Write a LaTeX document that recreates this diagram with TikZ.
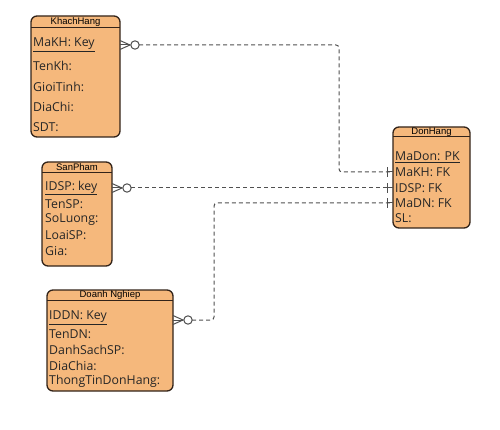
\documentclass[tikz,border=0pt]{standalone}
\usepackage{fontspec}
\setmainfont{Open Sans}
\newfontfamily\titlefont{Liberation Sans}
\definecolor{entfill}{RGB}{245,184,124}
\definecolor{entdraw}{RGB}{50,35,25}
\definecolor{conncol}{RGB}{80,80,80}
\begin{document}
\begin{tikzpicture}[x=1pt,y=-1pt,
  entbox/.style={draw=entdraw,fill=entfill,line width=1.3pt,rounded corners=6pt},
  ttl/.style={font=\titlefont\fontsize{9.5}{10}\selectfont,inner sep=0pt,anchor=center},
  attr/.style={font=\fontsize{12.3}{13}\selectfont,inner sep=0pt,anchor=west,text=black!85},
  conn/.style={draw=conncol,line width=1pt,dash pattern=on 4pt off 3pt,rounded corners=3pt},
  sym/.style={draw=conncol,line width=1pt}]
\useasboundingbox (0,0) rectangle (500,430);
% KhachHang
\draw[entbox] (31,16) rectangle (120,137);
\coordinate (khR) at (120,45);
\draw[entdraw,line width=1pt] (31,28) -- (120,28);
\node[ttl] (kht) at (75.5,22) {KhachHang};
\node[attr] (kh1) at (33,45) {\underline{MaKH: Key}};
\node[attr] (kh2) at (33,66) {TenKh:};
\node[attr] (kh3) at (33,87) {GioiTinh:};
\node[attr] (kh4) at (33,107) {DiaChi:};
\node[attr] (kh5) at (33,127) {SDT:};
% SanPham
\draw[entbox] (42,162) rectangle (112,266);
\coordinate (spR) at (112,188);
\draw[entdraw,line width=1pt] (42,173) -- (112,173);
\node[ttl] (spt) at (77,167.5) {SanPham};
\node[attr] (sp1) at (45,188) {\underline{IDSP: key}};
\node[attr] (sp2) at (45,204) {TenSP:};
\node[attr] (sp3) at (45,219.5) {SoLuong:};
\node[attr] (sp4) at (45,235) {LoaiSP:};
\node[attr] (sp5) at (45,251) {Gia:};
% Doanh Nghiep
\draw[entbox] (47,290) rectangle (173,391);
\coordinate (dnR) at (173,320);
\draw[entdraw,line width=1pt] (47,300) -- (173,300);
\node[ttl] (dnt) at (110,295) {Doanh Nghiep};
\node[attr] (dn1) at (49,318) {\underline{IDDN: Key}};
\node[attr] (dn2) at (49,334.5) {TenDN:};
\node[attr] (dn3) at (49,350) {DanhSachSP:};
\node[attr] (dn4) at (49,365.5) {DiaChia:};
\node[attr] (dn5) at (49,381) {ThongTinDonHang:};
% DonHang
\draw[entbox] (393,127) rectangle (470,228);
\draw[entdraw,line width=1pt] (393,137) -- (470,137);
\node[ttl] (dht) at (431.5,132) {DonHang};
\node[attr] (dh1) at (395,157) {\underline{MaDon: PK}};
\node[attr] (dh2) at (395,172) {MaKH: FK};
\node[attr] (dh3) at (395,188) {IDSP: FK};
\node[attr] (dh4) at (395,203) {MaDN: FK};
\node[attr] (dh5) at (395,218) {SL:};
\coordinate (dhL2) at (393,172);
\coordinate (dhL3) at (393,188);
\coordinate (dhL4) at (393,203);
% connectors
\draw[conn] ([xshift=19pt]khR) -- (339,45) -- (339,172) -- (dhL2);
\draw[conn] ([xshift=19pt]spR) -- (dhL3);
\draw[conn] ([xshift=19pt]dnR) -- (214,320) -- (214,203) -- (dhL4);
% crow's feet + circles
\foreach \p in {khR,spR,dnR}{
  \draw[sym] ([yshift=-4.5pt]\p) -- ([xshift=10pt]\p) -- ([yshift=4.5pt]\p);
  \draw[sym] (\p) -- ([xshift=10pt]\p);
  \draw[sym,fill=white] ([xshift=15pt]\p) circle (4.2pt);
}
% bars
\foreach \p in {dhL2,dhL3,dhL4}{
  \draw[sym] ([xshift=-6pt,yshift=-5pt]\p) -- ([xshift=-6pt,yshift=5pt]\p);
  \draw[sym] ([xshift=-6pt]\p) -- (\p);
}
\end{tikzpicture}
\end{document}
